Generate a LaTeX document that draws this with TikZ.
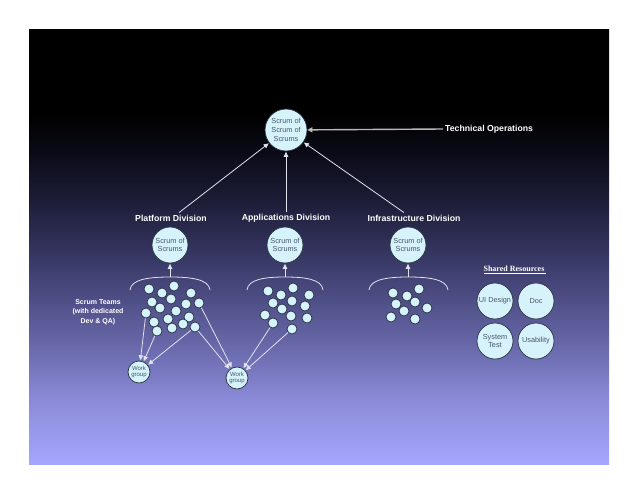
\documentclass[tikz,border=0pt]{standalone}
\usepackage{fontspec}
\setmainfont{Liberation Sans}
\newfontfamily\sharedserif{Liberation Serif}
\usetikzlibrary{arrows.meta}
\definecolor{cfill}{HTML}{D6F3FB}
\definecolor{cline}{HTML}{26323E}
\definecolor{ctext}{HTML}{46566A}
\definecolor{arrc}{HTML}{E2E2EC}
\definecolor{tarrc}{HTML}{B8B8B8}
\definecolor{bgA}{HTML}{A5A7FC}
\definecolor{bgB}{HTML}{8A8AD8}
\definecolor{bgC}{HTML}{6E6EB2}
\definecolor{bgD}{HTML}{4E4E86}
\definecolor{bgE}{HTML}{32325C}
\definecolor{bgF}{HTML}{1C1C36}
\definecolor{bgG}{HTML}{0A0A16}
\pgfdeclareverticalshading{slidebg}{100bp}{color(0bp)=(bgA); color(25bp)=(bgA); color(32.5bp)=(bgB); color(37.5bp)=(bgC); color(44bp)=(bgD); color(50bp)=(bgE); color(55.5bp)=(bgF); color(61bp)=(bgG); color(65.5bp)=(black); color(100bp)=(black)}
\tikzset{
  bubble/.style={circle, draw=cline, fill=cfill, line width=0.7pt, inner sep=0pt, align=center, text=ctext, font=\fontsize{7.3}{8.7}\selectfont},
  topbubble/.style={bubble, minimum size=42pt},
  divbubble/.style={bubble, minimum size=36pt},
  resbubble/.style={bubble, minimum size=36pt},
  wgbubble/.style={bubble, minimum size=22pt, font=\fontsize{6}{6.8}\selectfont},
  dot/.style={circle, draw=cline, fill=cfill, line width=0.7pt, inner sep=0pt, minimum size=10pt},
  divlabel/.style={text=white, font=\bfseries\fontsize{8.7}{10}\selectfont, inner sep=2pt},
  arr/.style={draw=arrc, line width=0.8pt, -{Triangle[length=5pt,width=4.5pt]}, shorten >=0.5pt},
  tarr/.style={draw=tarrc, line width=1.4pt, -{Triangle[length=5pt,width=5pt,fill=white]}},
  bracket/.style={draw=arrc, line width=0.8pt}
}
\begin{document}
\begin{tikzpicture}[x=1pt,y=-1pt]
\fill[white] (0,0) rectangle (638,493);
\useasboundingbox (0,0) rectangle (638,493);
\shade[shading=slidebg] (29,29) rectangle (609,464);

% top level
\node[topbubble] (sss) at (286,130) {Scrum of\\Scrum of\\Scrums};
\node[divlabel, anchor=west] (tops) at (443,129) {Technical Operations};
\draw[tarr] (tops.west) -- (sss);

% divisions
\node[divlabel] (pd) at (171,218) {Platform Division};
\node[divlabel] (ad) at (286,218) {Applications Division};
\node[divlabel] (id) at (414,218) {Infrastructure Division};
\draw[arr] ([xshift=8pt]pd.north) -- (sss);
\draw[arr] (ad.north) -- (sss);
\draw[arr] ([xshift=-10pt]id.north) -- (sss);

\node[divbubble] (ps) at (170,245) {Scrum of\\Scrums};
\node[divbubble] (as) at (285,245) {Scrum of\\Scrums};
\node[divbubble] (is) at (408,245) {Scrum of\\Scrums};

% brackets
\coordinate (pb) at (170,277);
\coordinate (ab) at (285,277);
\coordinate (ib) at (408,277);
\draw[bracket] (130,290) .. controls (131,279) and (150,277) .. (pb) .. controls (190,277) and (209,279) .. (210,290);
\draw[bracket] (247,290) .. controls (248,279) and (266,277) .. (ab) .. controls (304,277) and (322,279) .. (323,290);
\draw[bracket] (369,290) .. controls (370,279) and (389,277) .. (ib) .. controls (428,277) and (447,279) .. (448,290);
\draw[arr] (pb) -- (ps);
\draw[arr] (ab) -- (as);
\draw[arr] (ib) -- (is);

% platform teams
\foreach \n/\x/\y in {1/149/289, 2/174/286, 3/162/293, 4/191/293, 5/152/302, 6/171/299, 7/199/303, 8/160/308, 9/186/304, 10/176/311, 11/146/313, 12/154/322, 13/168/319, 14/189/317, 15/157/331, 16/172/328, 17/183/324, 18/195/327}
  \node[dot] (p\n) at (\x,\y) {};
% applications teams
\foreach \n/\x/\y in {1/268/291, 2/281/295, 3/293/288, 4/309/295, 5/273/303, 6/292/301, 7/282/309, 8/305/306, 9/265/315, 10/291/316, 11/307/318, 12/273/323, 13/292/329}
  \node[dot] (a\n) at (\x,\y) {};
% infrastructure teams
\foreach \n/\x/\y in {1/393/293, 2/419/289, 3/407/296, 4/396/304, 5/415/302, 6/404/311, 7/427/308, 8/391/317, 9/415/319}
  \node[dot] (i\n) at (\x,\y) {};

\node[text=white, align=center, font=\bfseries\fontsize{7}{9.5}\selectfont] (st) at (98,312) {Scrum Teams\\(with dedicated\\Dev \& QA)};

% work groups
\node[wgbubble] (wg1) at (139,372) {Work\\group};
\node[wgbubble] (wg2) at (237,378) {Work\\group};
\draw[arr] (p11) -- (wg1);
\draw[arr] (p15) -- (wg1);
\draw[arr] (p18) -- (wg1);
\draw[arr] (p7) -- (wg2);
\draw[arr] (p18) -- (wg2);
\draw[arr] (a12) -- (wg2);
\draw[arr] (a13) -- (wg2);

% shared resources
\node[text=white, font=\sharedserif\bfseries\fontsize{8}{9}\selectfont] (sr) at (515,270) {\underline{Shared Resources\ }};
\node[resbubble] (ui) at (495,301) {UI Design};
\node[resbubble] (doc) at (536,301) {Doc};
\node[resbubble] (sys) at (495,341) {System\\Test};
\node[resbubble] (us) at (536,341) {Usability};
\end{tikzpicture}
\end{document}
